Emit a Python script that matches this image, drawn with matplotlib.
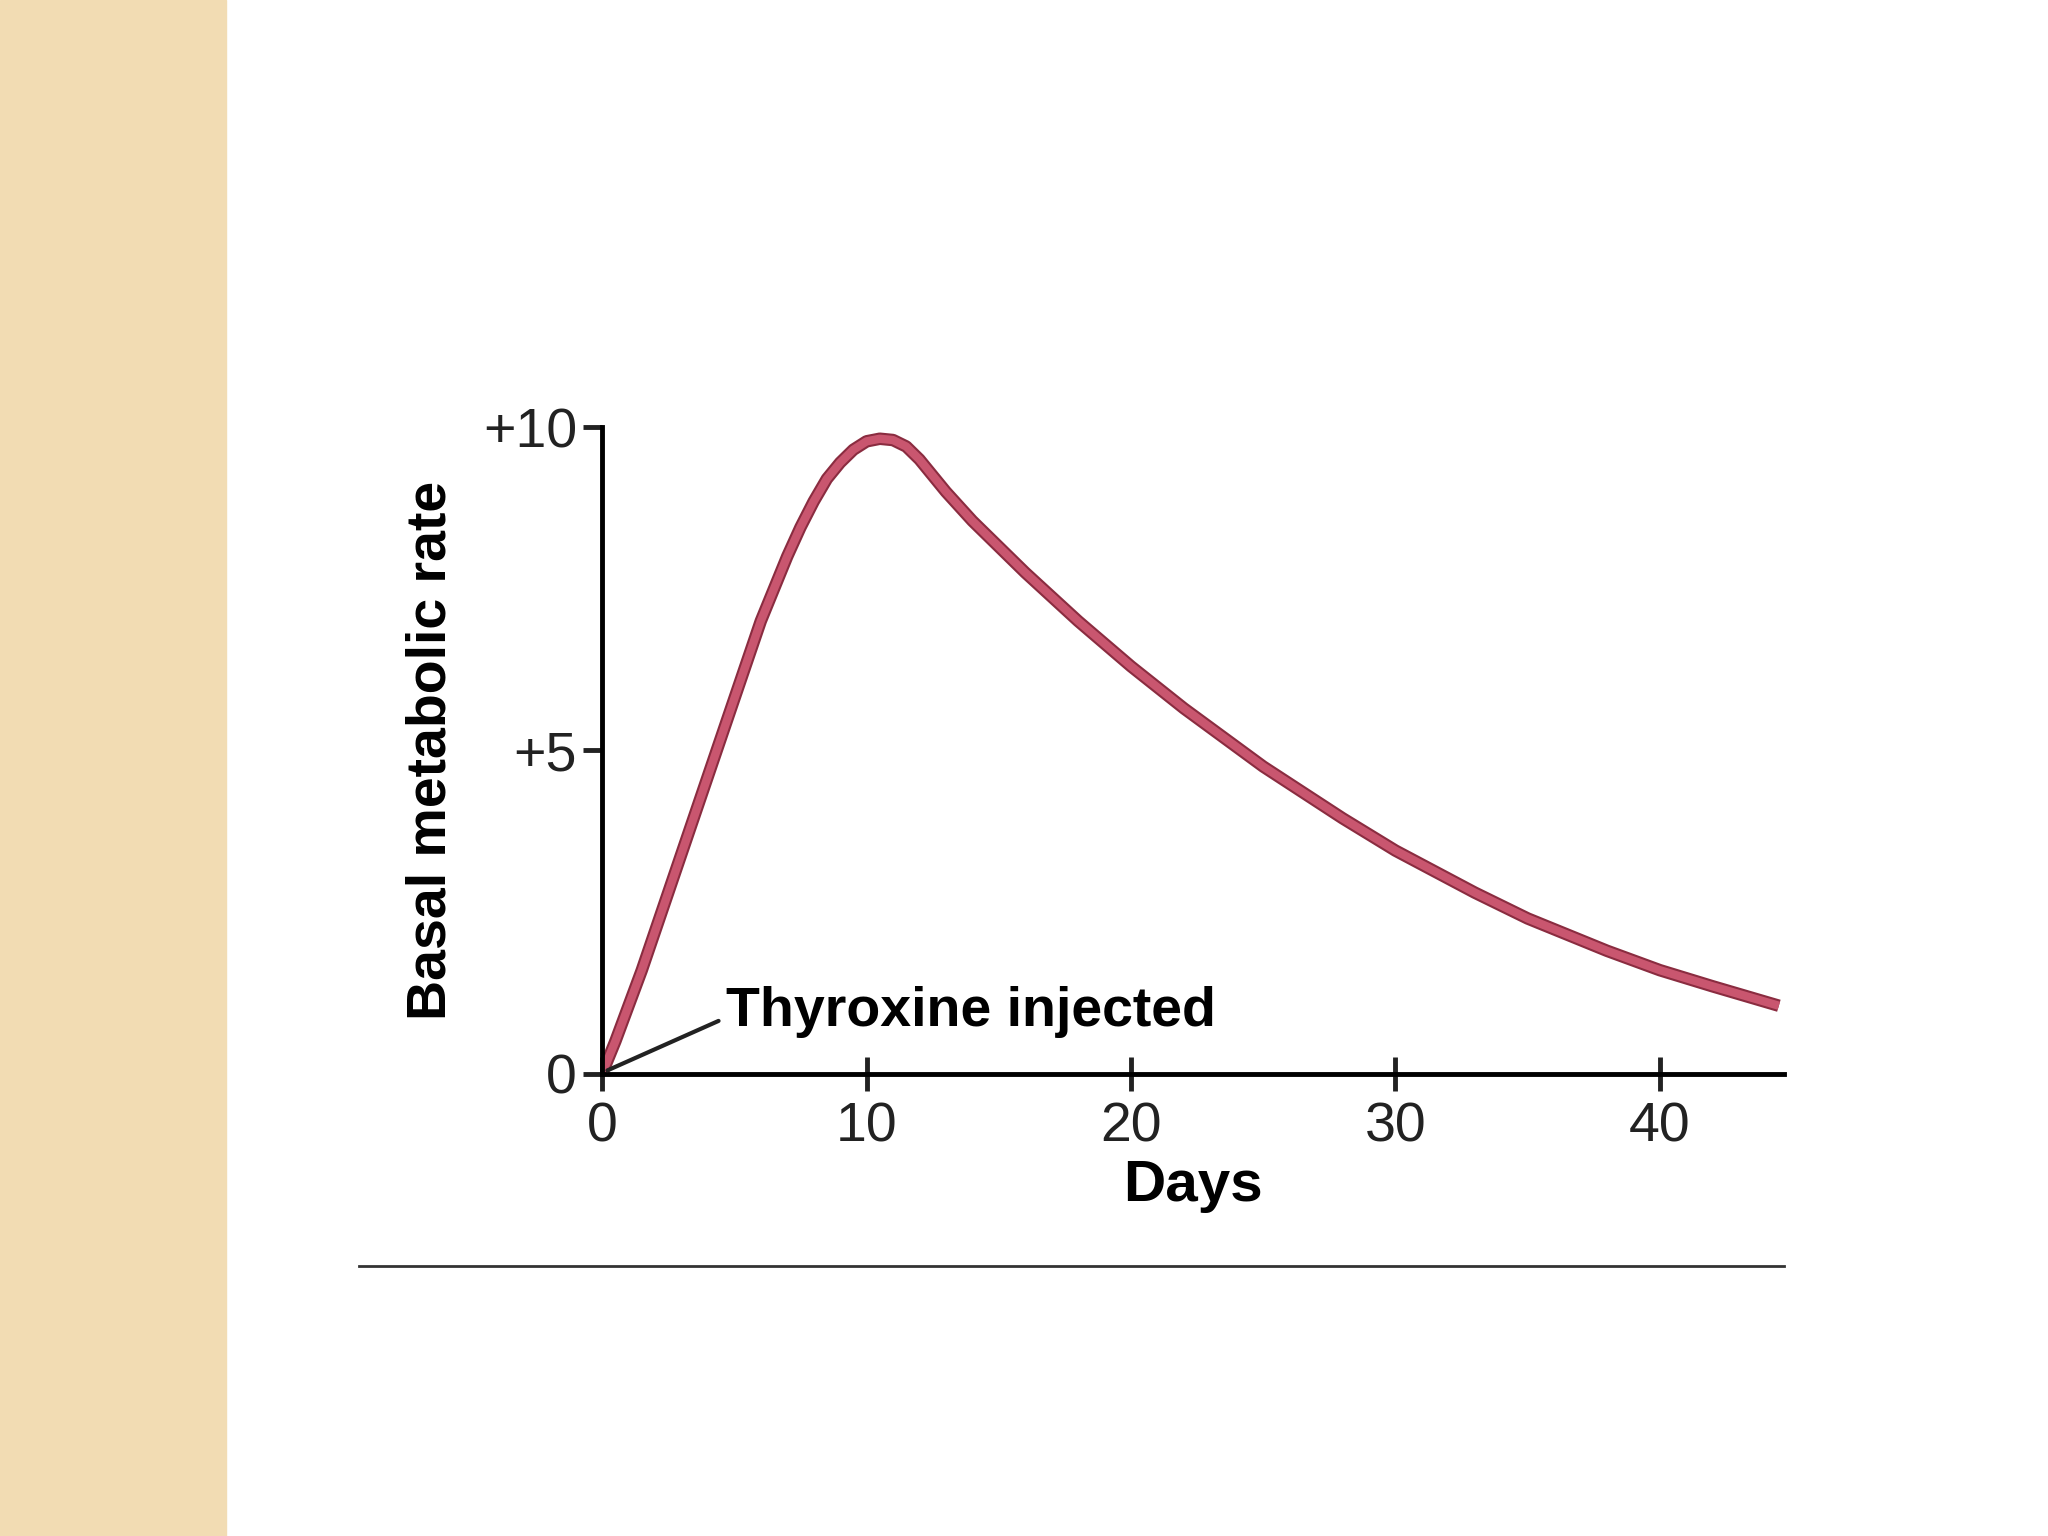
import matplotlib.pyplot as plt
from matplotlib.patches import Rectangle
from matplotlib.lines import Line2D

days = [0, 0.5, 1, 1.5, 2, 2.5, 3, 3.5, 4, 4.5, 5, 5.5, 6, 6.5, 7, 7.5, 8, 8.5, 9, 9.5, 10, 10.5, 11, 11.5, 12, 12.5, 13, 14, 15, 16, 18, 20, 22, 25, 28, 30, 33, 35, 38, 40, 42, 44.5]
bmr = [0, 0.5, 1.05, 1.6, 2.2, 2.8, 3.4, 4.0, 4.6, 5.2, 5.8, 6.4, 7.0, 7.5, 8.0, 8.45, 8.85, 9.2, 9.45, 9.65, 9.78, 9.82, 9.8, 9.7, 9.5, 9.25, 9.0, 8.55, 8.15, 7.75, 7.0, 6.3, 5.65, 4.75, 3.95, 3.45, 2.8, 2.4, 1.9, 1.6, 1.35, 1.05]
xticks = [0, 10, 20, 30, 40]
yticks = [0, 5, 10]
ylabels = ['0', '+5', '+10']

plt.rcParams['font.family'] = ['Liberation Sans', 'DejaVu Sans']
fig = plt.figure(figsize=(20.48, 15.36), dpi=100)
fig.patches.append(Rectangle((0, 0), 173 / 1568, 1, transform=fig.transFigure, color='#f2dcb3', zorder=0))
fig.lines.append(Line2D([275 / 1568, 1366 / 1568], [1 - 969 / 1176] * 2, transform=fig.transFigure, color='#333333', lw=2))

ax = fig.add_axes([461 / 1568, 1 - 822 / 1176, (1366 - 461) / 1568, (822 - 327) / 1176])
ax.plot(days, bmr, color='#8a2c40', lw=9, solid_capstyle='butt', solid_joinstyle='round')
ax.plot(days, bmr, color='#c9566f', lw=6, solid_capstyle='butt', solid_joinstyle='round')
ax.set_xlim(0, 44.7)
ax.set_ylim(0, 10)
ax.spines[['top', 'right']].set_visible(False)
for s in ['left', 'bottom']:
    ax.spines[s].set_linewidth(3.5)
ax.set_xticks(xticks)
ax.set_yticks(yticks, ylabels)
ax.tick_params(axis='x', direction='inout', length=24, width=3.5, labelsize=40, pad=8, colors='#222222')
ax.tick_params(axis='y', direction='out', length=14, width=3.5, labelsize=40, pad=4, colors='#222222')
ax.set_xlabel('Days', fontsize=42, fontweight='bold', labelpad=4)
ax.set_ylabel('Basal metabolic rate', fontsize=40, fontweight='bold', labelpad=18)
ax.annotate('Thyroxine injected', xy=(0.2, 0.05), xytext=(4.7, 0.95),
            fontsize=40, fontweight='bold', va='center', ha='left',
            arrowprops=dict(arrowstyle='-', color='#222222', lw=3, shrinkA=4, shrinkB=0,
                            relpos=(0, 0.4)))
fig.savefig('out.png')
